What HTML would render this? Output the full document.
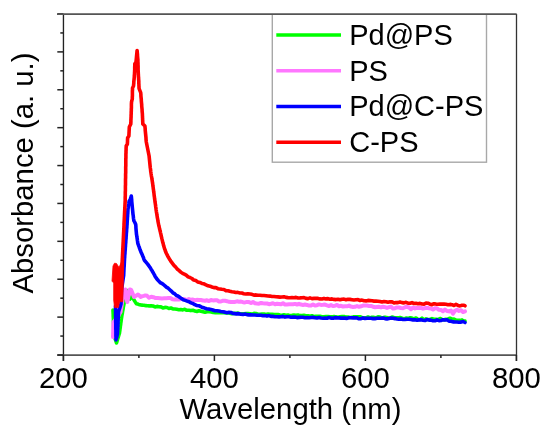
<!DOCTYPE html>
<html><head><meta charset="utf-8"><style>
html,body{margin:0;padding:0;background:#fff;width:550px;height:431px;overflow:hidden}
svg{display:block}
text{font-family:"Liberation Sans",sans-serif;fill:#000}
.t{will-change:transform}
</style></head><body>
<svg class="t" width="550" height="431" viewBox="0 0 550 431">
<rect width="550" height="431" fill="#fff"/>
<g fill="none" stroke-linejoin="round" stroke-linecap="round" stroke-width="3.6">
<polyline stroke="#00ff00" points="113.0,310.0 113.0,311.0 113.1,312.0 113.1,313.0 113.2,314.0 113.2,315.0 113.2,316.0 113.3,317.0 113.3,318.0 113.4,319.0 113.4,320.0 113.4,321.0 113.5,322.0 113.5,323.0 113.6,324.0 113.6,325.0 113.6,326.0 113.7,327.0 113.7,328.0 113.8,329.0 113.8,330.0 113.8,331.0 113.9,332.0 113.9,333.0 114.0,334.0 114.0,335.0 114.3,336.0 114.6,337.0 114.9,338.0 115.2,339.0 115.6,340.0 115.9,341.0 116.2,342.0 116.5,343.0 116.8,342.0 117.1,341.0 117.4,340.0 117.7,339.0 118.0,338.0 118.3,337.0 118.6,336.0 118.9,335.0 119.2,334.0 119.5,333.0 119.6,332.0 119.8,331.0 119.9,330.0 120.0,329.0 120.2,328.0 120.3,327.0 120.4,326.0 120.6,325.0 120.7,324.0 120.8,323.0 121.0,322.0 121.1,321.0 121.2,320.0 121.4,319.0 121.5,318.0 121.7,317.0 121.8,316.0 122.0,315.0 122.2,314.0 122.4,313.0 122.5,312.0 122.7,311.0 122.9,310.0 123.1,309.0 123.2,308.0 123.4,307.0 123.6,306.0 123.8,305.0 124.0,304.0 124.2,303.0 124.4,302.0 124.5,301.0 124.7,300.0 124.9,299.0 125.1,298.0 125.3,297.0 125.5,296.0 125.8,294.9 126.1,293.8 126.4,292.7 126.7,291.6 127.0,290.5 127.2,291.6 127.4,292.6 127.6,293.7 127.9,294.8 128.1,295.9 128.3,296.9 128.5,298.0 130.0,299.0 130.6,298.1 131.3,297.2 131.9,296.3 132.4,297.2 132.9,298.1 133.5,299.1 134.0,300.0 134.6,300.9 135.2,301.9 135.8,302.8 136.4,303.7 137.6,304.0 138.7,304.4 139.8,304.7 141.0,305.0 142.0,305.1 143.0,305.2 144.0,305.3 145.0,305.5 146.0,305.6 147.0,305.7 148.0,305.8 149.0,305.9 150.0,306.0 151.0,305.7 153.0,306.0 155.0,306.9 157.0,306.4 158.9,306.7 160.9,306.9 162.9,307.9 164.9,307.4 166.9,307.5 168.9,308.5 170.9,308.0 172.9,308.9 174.9,309.0 176.8,309.3 178.8,309.7 180.8,309.5 182.8,309.9 184.8,309.3 186.8,310.3 188.8,310.2 190.8,310.6 192.9,310.2 194.9,311.1 196.9,311.5 198.9,310.8 201.0,311.3 203.0,311.7 205.0,312.2 207.1,311.7 209.2,311.8 211.2,312.0 213.3,312.5 215.4,312.7 217.5,312.5 219.6,312.6 221.7,312.7 223.7,312.8 225.8,313.0 227.8,312.7 229.9,313.2 231.9,313.8 233.9,313.2 235.9,313.6 237.9,313.1 239.9,313.7 242.0,313.8 244.0,313.7 246.0,313.6 248.0,313.6 250.0,313.8 252.0,314.1 254.0,313.4 256.0,313.5 258.0,314.2 260.0,314.4 262.0,314.1 264.0,314.1 266.0,314.5 268.0,314.0 270.0,314.2 272.0,314.2 274.0,314.6 276.0,314.5 278.0,314.5 280.0,315.0 282.0,315.3 284.0,314.8 286.0,315.2 288.0,315.0 290.0,315.6 292.0,315.4 294.0,315.1 296.0,315.2 298.0,315.0 300.0,315.6 302.0,315.6 304.0,315.4 306.0,315.7 308.0,315.7 310.0,316.3 312.0,315.7 314.0,316.6 316.0,316.2 318.0,316.4 320.0,316.3 322.0,316.7 324.0,316.7 326.0,316.5 328.0,316.5 330.0,316.7 332.0,316.9 334.0,316.5 336.0,316.9 338.0,317.2 340.0,316.7 342.0,316.5 344.0,316.5 346.0,317.1 348.0,317.1 350.0,317.5 352.0,317.4 354.0,316.7 356.0,316.7 358.0,316.8 360.0,316.8 362.0,317.5 364.0,317.7 366.0,317.8 368.0,317.0 370.0,317.9 372.0,317.2 374.0,317.4 376.0,317.8 378.0,316.9 380.0,317.0 382.0,318.1 384.0,317.3 386.0,317.4 388.0,317.8 390.0,318.0 392.0,317.0 394.0,317.5 396.0,317.8 398.0,317.9 400.0,317.5 402.0,318.2 404.0,319.0 406.0,318.1 408.0,318.4 410.0,317.8 412.0,318.1 414.0,318.9 416.0,318.0 418.0,319.5 420.0,319.6 422.0,318.2 424.0,319.8 426.0,318.8 428.0,319.6 430.0,319.5 432.0,318.6 434.0,319.3 436.0,319.3 438.0,319.6 440.0,318.5 442.0,319.4 444.0,319.8 446.0,319.2 448.0,319.0 450.0,318.2 452.0,319.2 454.0,319.1 456.0,320.1 458.0,320.4 460.0,320.4 462.0,319.9 464.0,321.2 465.0,321.0"/>
<polyline stroke="#ff77ff" stroke-width="4" points="113.0,337.0 113.0,336.0 113.1,335.0 113.1,334.0 113.1,333.0 113.2,332.0 113.2,331.0 113.2,330.0 113.3,329.0 113.3,328.0 113.3,327.0 113.4,326.0 113.4,325.0 113.4,324.0 113.5,323.0 113.5,322.0 114.2,321.2 114.9,320.4 115.6,319.6 116.3,318.8 117.0,318.0 117.6,317.0 118.2,316.0 118.8,315.0 119.3,314.0 119.9,313.0 120.5,312.0 120.7,311.0 120.8,310.0 121.0,309.0 121.2,308.0 121.3,307.0 121.5,306.0 121.7,305.0 121.8,304.0 122.0,303.0 122.2,302.0 122.3,301.0 122.5,300.0 122.8,298.9 123.1,297.9 123.3,296.9 123.6,295.8 123.9,294.8 124.2,293.7 124.5,292.6 124.7,291.6 125.0,290.6 125.3,289.5 125.5,290.5 125.6,291.6 125.8,292.6 126.0,293.7 126.1,294.7 126.3,295.8 126.5,296.8 126.6,297.8 126.8,298.9 127.0,299.9 127.1,301.0 127.3,302.0 127.5,301.0 127.7,299.9 127.9,298.9 128.1,297.8 128.3,296.8 128.6,295.8 128.8,294.7 129.0,293.7 129.2,292.6 129.4,291.6 129.6,290.5 129.8,289.5 131.2,290.0 131.6,291.0 132.0,292.0 132.4,293.0 132.8,294.0 133.2,295.0 133.6,296.0 134.0,297.0 135.0,296.4 136.0,295.8 137.0,295.1 138.0,294.5 138.9,295.2 139.8,296.0 140.6,297.0 142.2,296.2 143.8,295.9 145.4,295.4 147.1,295.8 149.1,297.8 151.3,296.7 153.4,297.2 155.6,298.1 157.8,298.1 159.9,298.2 162.0,298.4 164.1,298.3 166.2,298.2 168.3,298.1 170.4,298.0 172.5,299.2 174.6,299.4 176.7,299.2 178.8,299.6 180.8,299.1 182.8,299.1 184.8,299.3 186.9,300.2 188.9,299.0 190.9,299.8 192.9,299.5 194.9,300.4 196.9,299.8 199.0,299.9 201.0,300.1 203.0,300.4 205.0,300.8 207.0,300.3 209.0,301.1 211.0,300.0 213.0,300.4 215.0,300.2 217.0,300.3 219.0,301.5 221.0,301.5 223.0,300.7 225.0,300.8 227.0,301.2 229.0,301.8 231.0,302.1 233.0,302.0 235.0,301.9 237.0,301.3 239.0,301.8 241.0,301.6 243.0,302.2 245.0,302.4 247.0,301.9 249.0,302.1 251.0,303.0 253.0,301.9 255.0,303.2 257.0,303.5 259.0,303.7 261.0,302.9 263.0,303.2 265.0,303.4 267.0,303.5 269.0,304.2 271.0,303.8 273.0,303.3 275.0,304.2 277.0,303.7 279.0,304.0 281.0,304.3 283.0,303.2 285.0,304.5 287.0,304.4 289.0,304.2 291.0,304.3 293.0,304.3 295.0,303.9 297.0,304.5 299.0,303.8 301.0,304.6 303.0,304.9 305.0,304.6 307.0,304.9 309.0,305.6 311.0,305.5 313.0,304.4 315.0,305.5 317.0,305.2 319.0,304.4 321.0,304.9 323.0,304.8 325.0,304.6 327.0,305.4 329.0,306.0 331.0,305.1 333.0,306.0 335.0,305.8 337.0,304.9 339.0,306.2 341.0,305.8 343.0,306.5 345.0,306.2 347.0,306.3 349.0,305.6 351.0,306.6 353.0,306.9 355.0,306.8 357.0,306.0 359.0,306.8 361.0,306.3 363.0,305.6 365.0,305.5 367.0,305.6 369.0,305.9 371.0,305.9 373.0,306.7 375.0,307.2 377.0,307.0 379.0,306.8 381.0,307.4 383.0,306.7 385.0,307.1 387.0,307.9 389.0,307.1 391.0,306.6 393.0,308.5 395.0,308.2 397.0,307.4 399.0,307.5 401.0,308.0 403.0,308.2 405.0,307.3 407.0,306.8 409.0,307.5 411.0,309.2 413.0,307.5 415.0,308.4 417.0,307.8 419.0,307.9 421.0,307.9 423.0,308.7 425.0,308.1 427.0,307.8 429.0,308.2 431.0,308.4 433.0,309.5 435.0,308.3 437.0,308.3 439.0,309.8 441.0,309.9 443.0,311.2 445.0,309.5 447.0,311.0 449.0,311.4 451.0,310.5 453.0,313.7 455.0,310.7 457.0,309.8 459.0,311.0 461.0,310.2 463.0,312.0 465.0,311.3"/>
<polyline stroke="#0000ff" points="115.5,306.0 115.5,307.0 115.5,308.0 115.5,309.0 115.6,310.0 115.6,311.0 115.6,312.0 115.6,313.0 115.6,314.0 115.6,315.0 115.6,316.0 115.7,317.0 115.7,318.0 115.7,319.0 115.7,320.0 115.7,321.0 115.7,322.0 115.8,323.0 115.8,324.0 115.8,325.0 115.8,326.0 115.8,327.0 115.8,328.0 115.8,329.0 115.9,330.0 115.9,331.0 115.9,332.0 115.9,333.0 115.9,334.0 115.9,335.0 115.9,336.0 116.0,337.0 116.0,338.0 116.0,339.0 116.0,340.0 116.2,339.0 116.5,338.0 116.8,337.0 117.0,336.0 117.2,335.0 117.5,334.0 117.5,333.0 117.6,332.0 117.6,331.0 117.7,330.0 117.7,329.0 117.8,328.0 117.8,327.0 117.9,326.0 117.9,325.0 118.0,324.0 118.0,323.0 118.0,322.0 118.1,321.0 118.1,320.0 118.2,319.0 118.2,318.0 118.3,317.0 118.3,316.0 118.4,315.0 118.4,314.0 118.5,313.0 118.5,312.0 118.8,311.0 119.1,310.0 119.4,309.0 119.8,308.0 120.1,307.0 120.4,306.0 120.7,305.0 121.0,304.0 121.0,303.0 121.1,302.0 121.1,301.0 121.1,300.0 121.2,299.0 121.2,298.0 121.2,297.0 121.3,296.0 121.3,295.0 121.4,294.0 121.4,293.0 121.4,292.0 121.5,291.0 121.5,290.0 121.7,289.0 121.8,288.0 122.0,287.0 122.1,286.0 122.2,285.0 122.4,284.0 122.5,283.0 122.7,282.0 122.8,281.0 123.0,280.0 123.1,279.0 123.3,278.0 123.4,277.0 123.6,276.0 123.7,275.0 123.7,274.0 123.8,273.0 123.8,272.0 123.9,271.0 123.9,270.0 124.0,269.0 124.0,268.0 124.1,267.0 124.2,266.0 124.2,265.0 124.3,264.0 124.3,263.0 124.4,262.0 124.4,261.0 124.5,260.0 124.5,259.0 124.6,258.0 124.7,257.0 124.7,256.0 124.8,255.0 124.9,254.0 125.0,253.0 125.0,252.0 125.1,251.0 125.2,250.0 125.3,249.0 125.3,248.0 125.4,247.0 125.5,246.0 125.5,245.0 125.6,244.0 125.7,243.0 125.8,242.0 125.8,241.0 125.9,240.0 126.0,239.0 126.1,238.0 126.1,237.0 126.2,236.0 126.3,235.0 126.3,234.0 126.4,233.0 126.5,232.0 126.6,231.0 126.6,230.0 126.7,229.0 126.8,228.0 126.9,227.0 126.9,226.0 127.0,225.0 127.1,224.0 127.1,223.0 127.2,222.0 127.2,221.0 127.3,220.0 127.4,219.0 127.4,218.0 127.5,217.0 127.6,216.0 127.6,215.0 127.7,214.0 127.8,213.0 127.8,212.0 127.9,211.0 127.9,210.0 128.0,209.0 128.2,208.0 128.3,207.0 128.4,206.0 128.6,205.0 128.8,204.0 128.9,203.0 129.0,202.0 129.2,201.0 130.3,199.5 130.6,198.3 131.0,197.2 131.3,196.0 131.4,197.0 131.5,198.0 131.6,199.0 131.7,200.0 131.7,201.0 131.8,202.0 131.9,203.0 132.0,204.0 132.1,205.0 132.2,206.0 132.3,207.1 132.4,208.1 132.5,209.1 132.6,210.1 132.7,211.2 132.8,212.2 132.9,213.2 133.0,214.3 133.2,215.3 133.3,216.4 133.4,217.4 133.5,218.5 133.7,219.5 133.8,220.6 134.3,221.5 134.8,222.4 135.2,223.4 135.7,224.3 135.8,225.4 135.9,226.6 135.9,227.7 136.0,228.9 136.1,230.0 136.2,231.1 136.3,232.2 136.4,233.2 136.5,234.3 136.7,235.3 136.8,236.4 137.0,237.4 137.1,238.4 137.3,239.5 137.4,240.5 137.6,241.5 137.7,242.6 137.9,243.6 138.3,244.7 138.7,245.8 139.1,246.8 139.4,247.9 139.8,249.0 140.2,250.1 140.6,251.0 141.0,252.0 141.4,252.9 141.8,253.8 142.2,254.7 142.6,255.7 143.0,256.6 143.5,257.8 143.9,259.1 144.4,260.3 145.2,261.2 146.0,262.1 146.8,263.1 147.6,264.0 148.2,264.9 148.9,265.8 149.5,266.7 150.1,267.6 150.7,268.5 151.2,269.4 151.8,270.3 152.3,271.3 152.9,272.2 153.4,273.1 153.9,274.0 154.4,274.9 154.9,275.9 155.4,276.8 156.0,277.6 156.5,278.5 157.2,279.3 157.8,280.1 158.5,280.8 159.3,281.5 160.0,282.5 161.7,283.3 163.4,284.5 165.0,285.9 166.7,287.4 168.2,288.2 169.8,289.7 171.3,291.1 172.9,292.8 174.6,293.7 176.2,295.3 177.9,296.0 179.7,297.3 181.5,298.6 183.3,299.8 185.2,300.4 187.1,301.1 189.1,301.8 191.0,302.9 192.9,303.5 194.8,304.7 196.8,305.5 198.7,305.7 200.6,306.5 202.6,307.6 204.6,308.1 206.6,308.8 208.7,309.0 210.8,309.4 212.8,310.0 214.9,310.8 216.9,310.7 218.9,311.1 220.9,311.5 222.9,311.8 224.9,312.1 226.9,312.7 228.9,312.4 230.9,312.5 232.9,313.4 234.9,313.6 236.9,313.9 238.9,313.6 240.9,314.2 243.0,314.4 245.0,314.0 247.0,314.6 249.0,314.9 251.0,314.9 253.0,315.0 255.0,315.0 257.0,315.2 259.0,315.2 261.0,315.2 263.0,315.7 265.0,315.6 267.0,316.1 269.0,315.6 271.0,316.4 273.0,316.4 275.0,316.7 277.0,316.8 279.0,316.9 281.0,316.7 283.0,316.4 285.0,317.1 287.0,316.7 289.0,316.8 291.0,317.2 293.0,317.1 295.0,317.1 297.0,317.6 299.0,317.4 301.0,317.2 303.0,317.2 305.0,317.7 307.0,317.5 309.0,317.8 311.0,317.5 313.0,317.4 315.0,317.7 317.0,318.0 319.0,317.5 321.0,318.0 323.0,318.2 325.0,318.1 327.0,318.2 329.0,317.5 331.0,318.1 333.0,318.3 335.0,317.6 337.0,317.9 339.0,317.9 341.0,318.1 343.0,318.1 345.0,318.1 347.0,318.4 349.0,317.7 351.0,317.8 353.0,317.9 355.0,317.9 357.0,317.8 359.0,318.8 361.0,318.7 363.0,317.9 365.0,318.4 367.0,318.2 369.0,318.2 371.0,318.3 373.0,318.6 375.0,318.6 377.0,318.3 379.0,318.2 381.0,318.3 383.0,318.1 385.0,318.6 387.0,318.9 389.0,318.5 391.0,318.1 393.0,318.3 395.0,318.6 397.0,319.0 399.0,319.3 401.0,318.9 403.0,319.5 405.0,319.4 407.0,319.2 409.0,319.3 411.0,319.5 413.0,319.9 415.0,319.7 417.0,320.2 419.0,319.9 421.0,319.7 423.0,320.2 425.0,320.5 427.0,319.6 429.0,320.1 431.0,320.1 433.0,320.7 435.0,320.8 437.0,319.9 439.0,320.7 441.0,320.5 443.0,319.7 445.0,320.1 447.0,319.7 449.0,321.1 451.0,321.2 453.0,321.9 455.0,322.0 457.0,322.0 459.0,322.3 461.0,322.1 463.0,321.5 465.0,322.5"/>
<polygon fill="#ff0000" stroke="#ff0000" stroke-width="0.8" points="112,281 113,266 114.5,263.2 116.5,263.5 119,267.5 121.5,262 121.8,255 123.8,258 123.2,288 122.7,301.7 119.5,301.7 118.5,307.6 114.5,307.6 113.7,300 113.7,283"/>
<polyline stroke="#ff0000" points="120.5,290.0 120.6,289.0 120.6,288.0 120.7,287.0 120.8,286.0 120.8,285.0 120.9,284.0 121.0,283.0 121.0,282.0 121.1,281.0 121.1,280.0 121.2,279.0 121.3,278.0 121.3,277.0 121.4,276.0 121.5,275.0 121.5,274.0 121.6,273.0 121.6,272.0 121.7,271.0 121.7,270.0 121.8,269.0 121.8,268.0 121.9,267.0 122.0,266.0 122.0,265.0 122.1,264.0 122.1,263.0 122.2,262.0 122.2,261.0 122.3,260.0 122.3,259.0 122.4,258.0 122.4,257.0 122.5,256.0 122.5,255.0 122.6,254.0 122.6,253.0 122.7,252.0 122.7,251.0 122.8,250.0 122.8,249.0 122.9,248.0 122.9,247.0 123.0,246.0 123.0,245.0 123.1,244.0 123.1,243.0 123.2,242.0 123.2,241.0 123.3,240.0 123.3,239.0 123.4,238.0 123.4,237.0 123.5,236.0 123.5,235.0 123.6,234.0 123.6,233.0 123.7,232.0 123.7,231.0 123.8,230.0 123.8,229.0 123.9,228.0 123.9,227.0 124.0,226.0 124.0,225.0 124.0,224.0 124.1,223.0 124.1,222.0 124.2,221.0 124.2,220.0 124.3,219.0 124.3,218.0 124.4,217.0 124.4,216.0 124.5,215.0 124.5,214.0 124.6,213.0 124.6,212.0 124.7,211.0 124.7,210.0 124.8,209.0 124.8,208.0 124.9,207.0 124.9,206.0 125.0,205.0 125.0,204.0 125.1,203.0 125.1,202.0 125.2,201.0 125.2,200.0 125.2,199.0 125.2,198.0 125.2,197.0 125.3,196.0 125.3,195.0 125.3,194.0 125.3,193.0 125.3,192.0 125.4,191.0 125.4,190.0 125.4,189.0 125.4,188.0 125.4,187.0 125.4,186.0 125.5,185.0 125.5,184.0 125.5,183.0 125.5,182.0 125.5,181.0 125.5,180.0 125.5,179.0 125.6,178.0 125.6,177.0 125.6,176.0 125.6,175.0 125.6,174.0 125.7,173.0 125.7,172.0 125.7,171.0 125.7,170.0 125.7,169.0 125.7,168.0 125.7,167.0 125.8,166.0 125.8,165.0 125.8,164.0 125.8,163.0 125.8,162.0 125.8,161.0 125.8,160.0 125.8,159.0 125.9,158.0 125.9,157.0 125.9,156.0 125.9,155.0 125.9,154.0 126.0,153.0 126.0,152.0 126.0,151.0 126.1,150.0 126.1,149.0 126.1,148.0 126.2,147.0 126.2,146.0 126.8,145.0 127.4,144.0 127.4,143.0 127.5,142.0 127.5,141.0 127.5,140.0 127.6,139.0 127.6,138.0 128.2,137.0 128.9,136.0 128.9,135.0 129.0,134.0 129.0,133.0 129.1,132.0 129.1,131.0 129.2,130.0 129.2,129.0 129.3,128.0 129.3,127.0 129.8,126.0 130.3,125.0 130.8,124.0 130.8,123.0 130.9,122.0 130.9,121.0 130.9,120.0 131.0,119.0 131.0,118.0 131.1,117.0 131.1,116.0 131.1,115.0 131.2,114.0 131.2,113.0 131.2,112.0 131.3,111.0 131.3,110.0 131.3,109.0 131.4,108.0 131.4,107.0 131.4,106.0 131.4,105.0 131.4,104.0 131.5,103.0 131.5,102.0 131.8,101.0 132.0,100.0 132.3,99.0 132.3,98.0 132.3,97.0 132.4,96.0 132.4,95.0 132.4,94.0 132.4,93.0 132.4,92.0 132.4,91.0 132.5,90.0 132.5,89.0 132.5,88.0 133.0,87.0 133.5,86.0 133.6,85.0 133.7,84.0 133.8,83.0 133.8,82.0 133.9,81.0 134.0,80.0 134.1,79.0 134.2,78.0 134.3,77.0 134.3,76.0 134.4,75.0 134.5,74.0 134.5,73.0 134.6,72.0 134.6,71.0 134.7,70.0 134.7,69.0 134.7,68.0 134.7,67.0 134.8,66.0 134.8,65.0 134.8,64.0 135.4,63.0 136.0,62.0 136.1,61.0 136.2,59.9 136.3,58.9 136.4,57.8 136.5,56.8 136.6,55.7 136.7,54.7 136.8,53.6 136.9,52.6 137.0,51.5 137.1,50.5 137.2,51.6 137.3,52.6 137.4,53.7 137.5,54.7 137.5,55.8 137.6,56.8 137.7,57.9 137.8,58.9 137.9,60.0 137.9,61.0 137.9,62.0 138.0,63.0 138.0,64.0 138.0,65.0 138.1,66.0 138.1,67.0 138.1,68.0 138.1,69.0 138.1,70.0 138.2,71.0 138.2,72.0 138.3,73.0 138.3,74.0 138.4,75.0 138.4,76.0 138.5,77.0 138.6,78.0 138.6,79.0 138.7,80.0 138.8,81.1 138.8,82.2 138.8,83.2 138.9,84.3 138.9,85.4 139.0,86.4 139.0,87.5 139.1,88.6 139.5,89.6 139.9,90.6 140.3,91.6 140.7,92.6 140.8,93.6 140.9,94.6 140.9,95.7 141.0,96.7 141.1,97.7 141.2,98.7 141.3,99.7 141.3,100.8 141.4,101.8 141.5,102.8 141.6,103.8 141.7,104.8 141.7,105.9 141.8,106.9 141.9,107.9 142.0,108.9 142.1,109.9 142.1,111.0 142.2,112.0 142.3,113.0 142.4,114.1 142.4,115.2 142.5,116.3 142.5,117.4 142.6,118.5 142.6,119.5 142.7,120.6 142.7,121.7 142.8,122.8 142.8,123.9 143.9,125.0 144.9,126.0 145.0,127.0 145.1,128.0 145.2,129.0 145.2,130.0 145.3,131.0 145.4,132.0 145.5,133.0 145.6,134.0 145.7,135.0 145.8,136.0 145.9,137.0 146.0,138.0 146.0,139.0 146.1,140.0 146.2,141.0 146.3,142.0 146.5,143.0 146.7,144.0 146.9,145.0 147.1,146.0 147.3,147.0 147.5,148.0 147.7,149.0 147.9,150.0 148.1,151.0 148.3,152.0 148.5,153.0 148.7,154.0 148.9,155.0 149.1,156.0 149.2,157.0 149.3,158.0 149.4,159.0 149.5,160.0 149.6,161.0 149.7,162.0 149.8,163.0 149.9,164.0 150.0,165.0 150.1,166.0 150.2,167.0 150.3,168.0 150.5,169.0 150.6,170.0 150.7,171.0 150.8,172.0 151.0,173.0 151.1,174.0 151.3,175.0 151.4,176.0 151.6,177.0 151.8,177.9 151.9,178.9 152.1,179.9 152.2,180.9 152.4,181.9 152.5,182.9 152.7,183.9 152.8,184.9 152.9,185.9 153.1,186.9 153.2,187.9 153.3,188.9 153.5,189.9 153.6,190.9 153.7,191.9 153.9,192.9 154.0,193.9 154.1,194.9 154.2,195.9 154.4,196.9 154.5,197.9 154.6,198.9 154.8,199.9 154.9,200.9 155.0,201.9 155.2,202.9 155.3,203.9 155.5,204.8 155.6,205.8 155.7,206.8 155.9,207.8 156.0,208.8 156.1,209.8 156.3,210.8 156.4,211.8 156.6,212.8 156.8,213.8 156.9,214.9 157.1,215.9 157.2,216.9 157.4,217.9 157.6,218.9 157.8,219.9 157.9,220.9 158.1,221.9 158.3,223.0 158.5,224.0 158.7,225.0 158.9,226.0 159.2,227.0 159.4,228.0 159.6,229.0 159.9,230.0 160.1,231.1 160.4,232.1 160.6,233.1 160.9,234.2 161.1,235.3 161.3,236.3 161.6,237.4 161.8,238.4 162.1,239.5 162.3,240.5 162.6,241.6 162.8,242.6 163.1,243.6 163.4,244.6 163.6,245.6 163.9,246.6 164.2,247.6 164.5,248.6 164.9,249.5 165.2,250.5 165.6,251.5 166.0,252.5 166.4,253.5 166.9,254.4 167.4,255.4 167.9,256.4 168.4,257.3 169.0,258.2 169.5,259.2 170.1,260.1 170.7,261.0 171.3,261.9 171.9,262.7 172.6,263.6 173.2,264.4 173.9,265.3 174.6,266.1 175.3,266.7 177.5,269.3 179.2,270.6 180.8,272.1 182.6,273.4 184.3,274.2 186.2,275.2 188.1,276.9 190.0,277.5 191.9,278.5 193.8,280.1 195.8,280.6 197.8,281.9 199.8,282.4 201.9,283.4 203.9,283.8 206.0,284.9 208.0,285.8 210.0,286.2 212.0,287.0 213.9,287.6 215.9,287.6 217.9,288.7 219.9,289.0 221.9,289.3 223.9,289.5 225.9,290.6 227.9,290.7 229.9,291.3 231.9,291.8 233.9,292.0 235.8,292.5 237.8,292.4 239.8,293.0 241.8,293.0 243.8,293.7 245.9,294.0 247.9,293.7 249.9,294.0 251.9,294.3 254.0,295.2 256.0,294.9 258.0,295.3 260.0,295.2 262.0,295.5 264.0,295.5 266.0,295.7 268.0,296.0 270.0,296.1 272.0,296.5 274.0,296.5 276.0,296.8 278.0,296.9 280.0,297.1 282.0,297.0 284.0,296.7 286.0,297.4 288.0,297.6 290.0,297.7 292.0,297.5 294.0,297.7 296.0,297.4 298.0,298.0 300.0,297.9 302.0,297.7 304.0,297.6 306.0,298.4 308.0,298.6 310.0,297.9 312.0,298.6 314.0,298.4 316.0,298.2 318.0,298.4 320.0,298.9 322.0,299.0 324.0,298.4 326.0,298.9 328.0,298.6 330.0,299.2 332.0,298.9 334.0,299.4 336.0,299.6 338.0,299.2 340.0,299.8 342.0,299.2 344.0,299.1 346.0,299.7 348.0,299.2 350.0,299.4 352.0,299.7 354.0,300.0 356.0,299.7 358.0,299.6 360.0,300.5 362.0,300.1 364.0,300.8 366.0,300.9 368.0,300.4 370.0,300.6 372.0,300.8 374.0,301.1 376.0,301.1 378.0,301.2 380.0,301.5 382.0,302.0 384.0,301.6 386.0,301.7 388.0,302.2 390.0,301.7 392.0,301.9 394.0,302.9 396.0,302.5 398.0,302.6 400.0,302.0 402.0,302.6 404.0,302.9 406.0,302.3 408.0,303.2 410.0,303.3 412.0,302.6 414.0,303.5 416.0,303.3 418.0,303.7 420.0,303.4 422.0,304.0 424.0,304.1 426.0,303.1 428.0,303.2 430.0,304.2 432.0,304.7 434.0,303.7 436.0,304.1 438.0,304.3 440.0,304.0 442.0,304.1 444.0,304.1 446.0,304.3 448.0,304.8 450.0,304.4 452.0,304.7 454.0,305.5 456.0,304.4 458.0,305.4 460.0,305.9 462.0,305.3 464.0,305.2 465.0,305.8"/>
</g>
<g stroke="#222" fill="none">
<line x1="57.3" y1="14.3" x2="516.6" y2="14.3" stroke="#555" stroke-width="1.5"/>
<line x1="63.45" y1="14" x2="63.45" y2="361" stroke-width="1.35"/>
<line x1="57.3" y1="355.1" x2="516.6" y2="355.1" stroke="#555" stroke-width="1.8"/>
<line x1="516.5" y1="14" x2="516.5" y2="361" stroke="#333" stroke-width="1.3"/>
<g stroke-width="1.5"><line x1="57.3" y1="355.00" x2="63.4" y2="355.00"/><line x1="60.3" y1="336.06" x2="63.4" y2="336.06"/><line x1="57.3" y1="317.11" x2="63.4" y2="317.11"/><line x1="60.3" y1="298.17" x2="63.4" y2="298.17"/><line x1="57.3" y1="279.22" x2="63.4" y2="279.22"/><line x1="60.3" y1="260.28" x2="63.4" y2="260.28"/><line x1="57.3" y1="241.33" x2="63.4" y2="241.33"/><line x1="60.3" y1="222.39" x2="63.4" y2="222.39"/><line x1="57.3" y1="203.44" x2="63.4" y2="203.44"/><line x1="60.3" y1="184.50" x2="63.4" y2="184.50"/><line x1="57.3" y1="165.56" x2="63.4" y2="165.56"/><line x1="60.3" y1="146.61" x2="63.4" y2="146.61"/><line x1="57.3" y1="127.67" x2="63.4" y2="127.67"/><line x1="60.3" y1="108.72" x2="63.4" y2="108.72"/><line x1="57.3" y1="89.78" x2="63.4" y2="89.78"/><line x1="60.3" y1="70.83" x2="63.4" y2="70.83"/><line x1="57.3" y1="51.89" x2="63.4" y2="51.89"/><line x1="60.3" y1="32.94" x2="63.4" y2="32.94"/><line x1="57.3" y1="14.00" x2="63.4" y2="14.00"/><line x1="63.4" y1="355" x2="63.4" y2="361"/><line x1="138.9" y1="355" x2="138.9" y2="358"/><line x1="214.4" y1="355" x2="214.4" y2="361"/><line x1="289.9" y1="355" x2="289.9" y2="358"/><line x1="365.4" y1="355" x2="365.4" y2="361"/><line x1="440.9" y1="355" x2="440.9" y2="358"/><line x1="516.4" y1="355" x2="516.4" y2="361"/></g>
</g>
<rect x="272.3" y="14" width="214.2" height="148.2" fill="#fff" stroke="#a8a8a8" stroke-width="1.4"/>
<g stroke-width="3.5">
<line x1="276.3" y1="35.1" x2="341" y2="35.1" stroke="#00ff00"/>
<line x1="276.3" y1="70.8" x2="341" y2="70.8" stroke="#ff77ff"/>
<line x1="276.3" y1="106.6" x2="341" y2="106.6" stroke="#0000ff"/>
<line x1="276.3" y1="142.2" x2="341" y2="142.2" stroke="#ff0000"/>
</g>
<line x1="57.3" y1="14.3" x2="516.6" y2="14.3" stroke="#555" stroke-width="1.5"/>
<g font-size="29">
<text x="349.2" y="45">Pd@PS</text>
<text x="349.2" y="80.6">PS</text>
<text x="349.2" y="116.2">Pd@C-PS</text>
<text x="349.2" y="151.8">C-PS</text>
</g>
<g font-size="29.3" text-anchor="middle">
<text x="63.4" y="388.4">200</text>
<text x="214.4" y="388.4">400</text>
<text x="365.4" y="388.4">600</text>
<text x="516.4" y="388.4">800</text>
</g>
<text x="290.5" y="419" font-size="29.3" text-anchor="middle">Wavelength (nm)</text>
<text transform="translate(33,173) rotate(-90)" font-size="29.3" text-anchor="middle">Absorbance (a. u.)</text>
</svg>
</body></html>
